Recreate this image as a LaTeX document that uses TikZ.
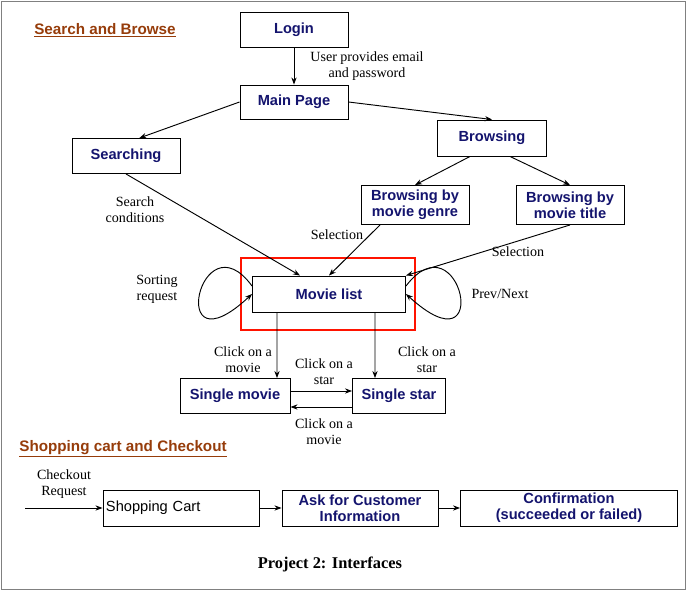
\documentclass[tikz,border=0pt]{standalone}
\usepackage{fontspec}
\setmainfont{Liberation Serif}
\newfontfamily\boxfont{Liberation Sans}
\usetikzlibrary{positioning, arrows.meta}
\definecolor{boxnavy}{RGB}{20,20,110}
\definecolor{headbrown}{RGB}{150,60,10}
\begin{document}
\begin{tikzpicture}[x=0.03cm, y=-0.03cm,
    screen/.style={draw, thick, fill=white, align=center, inner sep=0pt,
        font=\boxfont\bfseries\fontsize{12.5}{14}\selectfont, text=boxnavy},
    lbl/.style={align=center, font=\fontsize{12}{13.5}\selectfont},
    head/.style={font=\boxfont\bfseries\fontsize{13}{15}\selectfont, text=headbrown},
    flow/.style={-{Stealth[length=6pt]}, thick}]
    % Frame
    \draw[gray] (1,1) rectangle (685,589);
    \useasboundingbox (0,0) rectangle (686,590);

    % Headings
    \node[head] (hsb) at (105,30) {\underline{Search and Browse}};
    \node[head] (hsc) at (123,449) {\underline{Shopping cart and Checkout}};

    % Screens
    \node[screen, minimum width=3.24cm, minimum height=1.05cm] (login) at (294,30) {Login};
    \node[screen, minimum width=3.24cm, minimum height=1.02cm] (main) at (294,102) {Main Page};
    \node[screen, minimum width=3.24cm, minimum height=1.05cm] (search) at (126,156) {Searching};
    \node[screen, minimum width=3.27cm, minimum height=1.08cm] (browse) at (492,138) {Browsing};
    \node[screen, minimum width=3.24cm, minimum height=1.17cm] (genre) at (415,205) {Browsing by\\movie genre};
    \node[screen, minimum width=3.24cm, minimum height=1.17cm] (title) at (570,205) {Browsing by\\movie title};
    \node[screen, minimum width=4.59cm, minimum height=1.08cm] (list) at (329,294) {Movie list};
    \node[screen, minimum width=3.3cm, minimum height=1.05cm] (movie) at (235,396) {Single movie};
    \node[screen, minimum width=2.79cm, minimum height=1.05cm] (star) at (399,396) {Single star};
    \node[screen, minimum width=4.68cm, minimum height=1.08cm, font=\boxfont\fontsize{12.5}{14}\selectfont, text=black, text width=4.5cm, align=left] (cart) at (181,508) {Shopping Cart};
    \node[screen, minimum width=4.68cm, minimum height=1.08cm] (ask) at (360,508) {Ask for Customer\\Information};
    \node[screen, minimum width=6.51cm, minimum height=1.08cm] (conf) at (569,508) {Confirmation\\(succeeded or failed)};

    % Highlight
    \draw[red!85!orange, line width=2.5pt] (241,258) rectangle (415,330);

    % Connectors
    \draw[flow] (login) -- (main);
    \draw[flow] (main.west) -- ([xshift=0.4cm]search.north);
    \draw[flow] (main.east) -- (browse.north);
    \draw[flow] ([xshift=-0.66cm]browse.south) -- (genre.north);
    \draw[flow] ([xshift=0.54cm]browse.south) -- (title.north);
    \draw[flow] (search.south) -- ([xshift=-0.87cm]list.north);
    \draw[flow] ([xshift=-1.05cm]genre.south) -- (list.north);
    \draw[flow] (title.south) -- (list.north east);
    \draw[flow] ([xshift=-1.56cm]list.south) -- ([xshift=1.26cm]movie.north);
    \draw[flow] ([xshift=1.38cm]list.south) -- ([xshift=-0.72cm]star.north);
    \draw[flow] ([yshift=0.15cm]movie.east) -- ([yshift=0.15cm]star.west);
    \draw[flow] ([yshift=-0.33cm]star.west) -- ([yshift=-0.33cm]movie.east);
    \draw[flow] ([yshift=0.24cm]list.west) .. controls (200,215) and (165,375) .. (list.west);
    \draw[flow] ([yshift=0.24cm]list.east) .. controls (460,215) and (495,375) .. (list.east);
    \coordinate (entry) at (25,508);
    \draw[flow] (entry) -- (cart);
    \draw[flow] (cart) -- (ask);
    \draw[flow] (ask) -- (conf);

    % Labels
    \node[lbl] (l1) at (367,66) {User provides email\\and password};
    \node[lbl] (l2) at (135,210) {Search\\conditions};
    \node[lbl] (l3) at (337,235) {Selection};
    \node[lbl] (l4) at (518,252) {Selection};
    \node[lbl] (l5) at (157,289) {Sorting\\request};
    \node[lbl] (l6) at (500,294) {Prev/Next};
    \node[lbl] (l7) at (243,360) {Click on a\\movie};
    \node[lbl] (l8) at (427,360) {Click on a\\star};
    \node[lbl] (l9) at (324,372) {Click on a\\star};
    \node[lbl] (l10) at (324,432) {Click on a\\movie};
    \node[lbl] (l11) at (64,484) {Checkout\\Request};
    \node[font=\bfseries\fontsize{14}{16}\selectfont] (cap) at (330,564) {Project 2: Interfaces};
\end{tikzpicture}
\end{document}
